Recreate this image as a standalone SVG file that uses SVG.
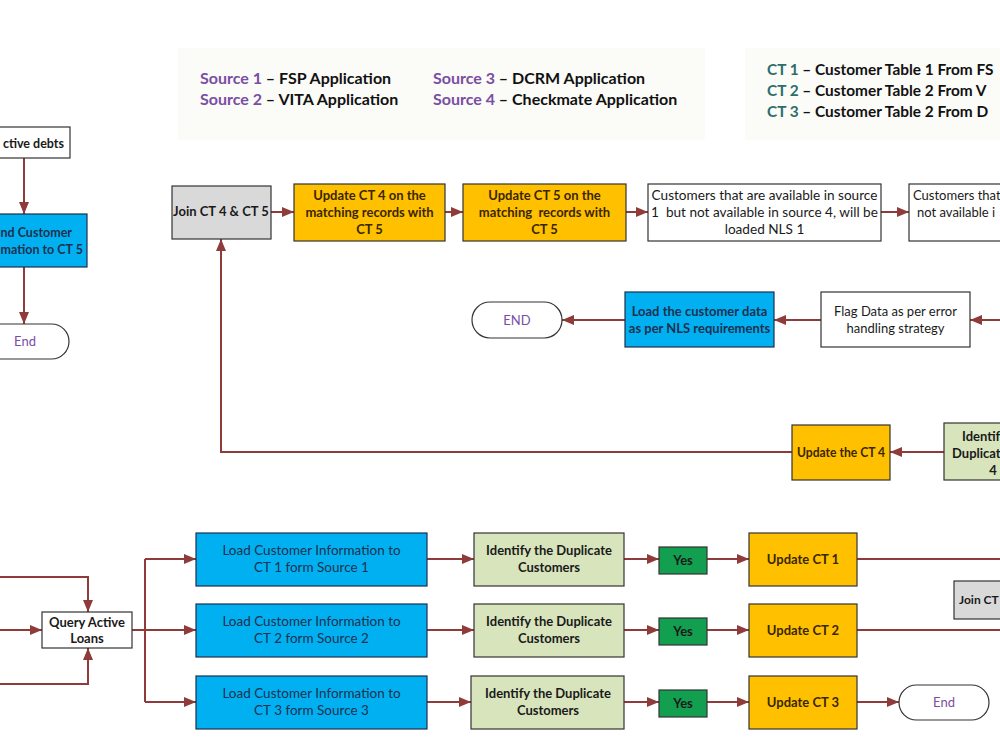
<svg xmlns="http://www.w3.org/2000/svg" width="1000" height="750" viewBox="0 0 1000 750">
<defs>
<marker id="ah" viewBox="0 0 12 10" markerWidth="12" markerHeight="10" refX="12" refY="5" orient="auto" markerUnits="userSpaceOnUse">
<path d="M0,0 L12,5 L0,10 z" fill="#8e3b39"/>
</marker>
<style>
text{font-family:Lato,"Open Sans","Liberation Sans",sans-serif;font-size:13px;fill:#1a1a1a}
.c{text-anchor:middle}
.b{font-weight:bold}
.leg{font-size:16px;font-weight:bold;fill:#111}
.leg2{font-size:15.4px}
.src{fill:#7a4ea3}
.ct{fill:#2f6d6a}
.box{stroke:#333;stroke-width:1.2}
.white{fill:#fff}
.gray{fill:#d9d9d9}
.yel{fill:#ffc000}
.blue{fill:#00b0f0;stroke:#1f2f4f}
.lg{fill:#d8e4bc}
.dg{fill:#12a050}
.bt{fill:#1f3050}
.yt{fill:#3a2600}
.term{fill:#fff;stroke:#333;stroke-width:1.2}
.tt{fill:#7a4ea3}
.conn path{fill:none;stroke:#8e3b39;stroke-width:2}
</style>
</defs>
<rect width="1000" height="750" fill="#fff"/>
<g id="legend-sources">
<rect x="178" y="48" width="527" height="92" fill="#fbfbf8"/>
<text x="200" y="84" class="leg"><tspan class="src">Source 1</tspan> – FSP Application</text>
<text x="200" y="105" class="leg"><tspan class="src">Source 2</tspan> – VITA Application</text>
<text x="433" y="84" class="leg"><tspan class="src">Source 3</tspan> – DCRM Application</text>
<text x="433" y="105" class="leg"><tspan class="src">Source 4</tspan> – Checkmate Application</text>
</g>
<g id="legend-ct">
<rect x="745" y="48" width="255" height="92" fill="#fbfbf8"/>
<text x="767" y="75" class="leg leg2"><tspan class="ct">CT 1</tspan> – Customer Table 1 From FS</text>
<text x="767" y="96" class="leg leg2"><tspan class="ct">CT 2</tspan> – Customer Table 2 From V</text>
<text x="767" y="117" class="leg leg2"><tspan class="ct">CT 3</tspan> – Customer Table 2 From D</text>
</g>
<g class="conn" id="connectors">
<path d="M24,158 V214" marker-end="url(#ah)"/>
<path d="M24,267 V324" marker-end="url(#ah)"/>
<path d="M271,212 H294" marker-end="url(#ah)"/>
<path d="M445,212 H463" marker-end="url(#ah)"/>
<path d="M626,212 H648" marker-end="url(#ah)"/>
<path d="M881,212 H909" marker-end="url(#ah)"/>
<path d="M1002,320 H970" marker-end="url(#ah)"/>
<path d="M821,320 H774" marker-end="url(#ah)"/>
<path d="M625,320 H562" marker-end="url(#ah)"/>
<path d="M944,452 H890" marker-end="url(#ah)"/>
<path d="M792,452 H221 V239" marker-end="url(#ah)"/>
<path d="M-2,577 H88 V612" marker-end="url(#ah)"/>
<path d="M-2,630 H42" marker-end="url(#ah)"/>
<path d="M-2,684 H88 V648" marker-end="url(#ah)"/>
<path d="M132,630 H145 M145,559 V702"/>
<path d="M145,559 H196" marker-end="url(#ah)"/>
<path d="M145,630 H196" marker-end="url(#ah)"/>
<path d="M145,702 H196" marker-end="url(#ah)"/>
<path d="M427,559 H474" marker-end="url(#ah)"/>
<path d="M427,630 H474" marker-end="url(#ah)"/>
<path d="M427,702 H471" marker-end="url(#ah)"/>
<path d="M624,559 H659" marker-end="url(#ah)"/>
<path d="M624,630 H659" marker-end="url(#ah)"/>
<path d="M624,702 H659" marker-end="url(#ah)"/>
<path d="M707,559 H749" marker-end="url(#ah)"/>
<path d="M707,630 H749" marker-end="url(#ah)"/>
<path d="M707,702 H749" marker-end="url(#ah)"/>
<path d="M857,559 H1002"/>
<path d="M857,630 H1002"/>
<path d="M857,702 H899" marker-end="url(#ah)"/>
</g>
<g id="active-debts">
<rect x="-10" y="127" width="80" height="31" class="box white"/>
<text x="64" y="148" text-anchor="end" class="b" style="font-size:12.5px">ctive debts</text>
</g>
<g id="load-ct5">
<rect x="-10" y="214" width="97" height="53" class="box blue"/>
<text x="72" y="237" text-anchor="end" class="b bt" style="font-size:12.5px">nd Customer</text>
<text x="83" y="254" text-anchor="end" class="b bt" style="font-size:12.5px">mation to CT 5</text>
</g>
<g id="end-left">
<rect x="-30" y="324" width="99" height="35" rx="17.5" class="term"/>
<text x="25" y="346" class="c tt">End</text>
</g>
<g id="join-ct4-ct5">
<rect x="172" y="186" width="99" height="53" class="box gray"/>
<text x="221" y="216" class="c b">Join CT 4 &amp; CT 5</text>
</g>
<g id="update-ct4-match">
<rect x="294" y="184" width="151" height="57" class="box yel"/>
<text x="369.5" y="200" class="c b yt">Update CT 4 on the</text>
<text x="369.5" y="217" class="c b yt">matching records with</text>
<text x="369.5" y="234" class="c b yt">CT 5</text>
</g>
<g id="update-ct5-match">
<rect x="463" y="184" width="163" height="57" class="box yel"/>
<text x="544.5" y="200" class="c b yt">Update CT 5 on the</text>
<text x="544.5" y="217" class="c b yt" xml:space="preserve">matching  records with</text>
<text x="544.5" y="234" class="c b yt">CT 5</text>
</g>
<g id="nls1">
<rect x="648" y="184" width="233" height="57" class="box white"/>
<text x="764.5" y="200" class="c" style="font-size:13.6px">Customers that are available in source</text>
<text x="764.5" y="217" class="c" style="font-size:13.6px" xml:space="preserve">1  but not available in source 4, will be</text>
<text x="764.5" y="234" class="c" style="font-size:13.6px">loaded NLS 1</text>
</g>
<g id="nls2">
<rect x="909" y="184" width="110" height="57" class="box white"/>
<text x="913" y="200" style="font-size:13px">Customers that</text>
<text x="917" y="217" style="font-size:13px">not available i</text>
</g>
<g id="end-mid">
<rect x="472" y="302" width="90" height="36" rx="18" class="term"/>
<text x="517" y="325" class="c tt">END</text>
</g>
<g id="load-nls">
<rect x="625" y="292" width="149" height="55" class="box blue"/>
<text x="699.5" y="316" class="c b bt">Load the customer data</text>
<text x="699.5" y="333" class="c b bt">as per NLS requirements</text>
</g>
<g id="flag-data">
<rect x="821" y="292" width="149" height="55" class="box white"/>
<text x="895.5" y="316" class="c">Flag Data as per error</text>
<text x="895.5" y="333" class="c">handling strategy</text>
</g>
<g id="update-ct4">
<rect x="792" y="425" width="98" height="55" class="box yel"/>
<text x="841" y="457" class="c b yt" textLength="88" lengthAdjust="spacingAndGlyphs">Update the CT 4</text>
</g>
<g id="identify-dup-ct4">
<rect x="944" y="423" width="80" height="57" class="box lg"/>
<text x="962" y="441" class="b">Identif</text>
<text x="952" y="458" class="b">Duplicat</text>
<text x="993" y="475" class="c b">4</text>
</g>
<g id="query-loans">
<rect x="42" y="612" width="90" height="36" class="box white"/>
<text x="87" y="627" class="c b">Query Active</text>
<text x="87" y="643" class="c b">Loans</text>
</g>
<g id="load-ct1">
<rect x="196" y="533" width="231" height="53" class="box blue"/>
<text x="311.5" y="555" class="c bt" style="font-size:13.5px">Load Customer Information to</text>
<text x="311.5" y="572" class="c bt" style="font-size:13.5px">CT 1 form Source 1</text>
</g>
<g id="load-ct2">
<rect x="196" y="604" width="231" height="53" class="box blue"/>
<text x="311.5" y="626" class="c bt" style="font-size:13.5px">Load Customer Information to</text>
<text x="311.5" y="643" class="c bt" style="font-size:13.5px">CT 2 form Source 2</text>
</g>
<g id="load-ct3">
<rect x="196" y="676" width="231" height="53" class="box blue"/>
<text x="311.5" y="698" class="c bt" style="font-size:13.5px">Load Customer Information to</text>
<text x="311.5" y="715" class="c bt" style="font-size:13.5px">CT 3 form Source 3</text>
</g>
<g id="dup1">
<rect x="474" y="533" width="150" height="53" class="box lg"/>
<text x="549" y="555" class="c b">Identify the Duplicate</text>
<text x="549" y="572" class="c b">Customers</text>
</g>
<g id="dup2">
<rect x="474" y="604" width="150" height="53" class="box lg"/>
<text x="549" y="626" class="c b">Identify the Duplicate</text>
<text x="549" y="643" class="c b">Customers</text>
</g>
<g id="dup3">
<rect x="471" y="676" width="153" height="53" class="box lg"/>
<text x="548" y="698" class="c b">Identify the Duplicate</text>
<text x="548" y="715" class="c b">Customers</text>
</g>
<g id="yes1">
<rect x="659" y="547" width="48" height="27" class="box dg"/>
<text x="683" y="565" class="c b">Yes</text>
</g>
<g id="yes2">
<rect x="659" y="618" width="48" height="27" class="box dg"/>
<text x="683" y="636" class="c b">Yes</text>
</g>
<g id="yes3">
<rect x="659" y="690" width="48" height="27" class="box dg"/>
<text x="683" y="708" class="c b">Yes</text>
</g>
<g id="update-ct1">
<rect x="749" y="533" width="108" height="53" class="box yel"/>
<text x="803" y="564" class="c b yt">Update CT 1</text>
</g>
<g id="update-ct2">
<rect x="749" y="604" width="108" height="53" class="box yel"/>
<text x="803" y="635" class="c b yt">Update CT 2</text>
</g>
<g id="update-ct3">
<rect x="749" y="676" width="108" height="53" class="box yel"/>
<text x="803" y="707" class="c b yt">Update CT 3</text>
</g>
<g id="end-bottom">
<rect x="899" y="685" width="90" height="35" rx="17.5" class="term"/>
<text x="944" y="707" class="c tt">End</text>
</g>
<g id="join-ct123">
<rect x="954" y="581" width="70" height="38" class="box gray"/>
<text x="959" y="604" class="b" style="font-size:12px">Join CT</text>
</g>
</svg>
